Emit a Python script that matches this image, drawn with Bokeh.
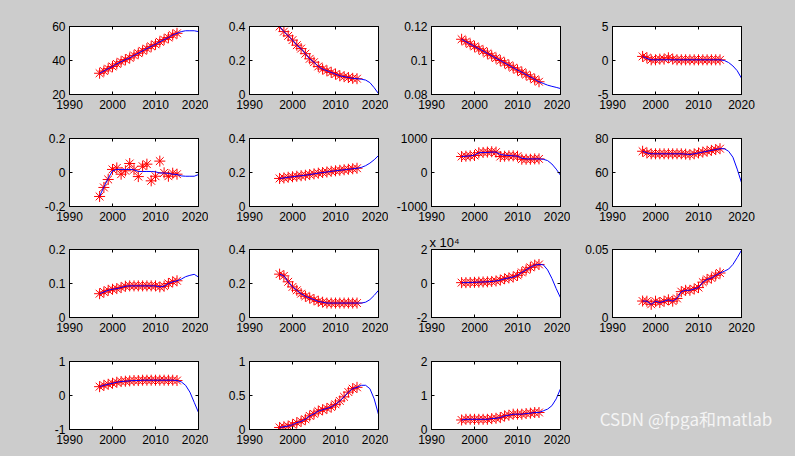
from bokeh.plotting import figure
from bokeh.layouts import row, column
from bokeh.models import FixedTicker, CustomJSTickFormatter, LinearAxis, Range1d, Label
from bokeh.embed import file_html
from bokeh.resources import INLINE

years_obs = list(range(1997, 2016))
years_fit = list(range(1997, 2021))
x_ticks = [1990, 2000, 2010, 2020]

obs1 = [32.5, 33.8, 35.2, 36.5, 38, 39.3, 40.5, 41.5, 43, 44.3, 45.7, 47, 48.3, 49.5, 51, 52.3, 53.5, 55, 56]
fit1 = obs1 + [57, 57.5, 57.5, 57.5, 57]

obs2 = [0.40, 0.37, 0.345, 0.32, 0.29, 0.27, 0.24, 0.21, 0.19, 0.165, 0.15, 0.14, 0.13, 0.12, 0.11, 0.105, 0.10, 0.095, 0.093]
fit2 = obs2 + [0.09, 0.085, 0.07, 0.04, 0.005]

obs3 = [0.1125, 0.1111, 0.1097, 0.1083, 0.1069, 0.1056, 0.1042, 0.1028, 0.1014, 0.1000, 0.0986, 0.0972, 0.0958, 0.0944, 0.0931, 0.0917, 0.0903, 0.0889, 0.0875]
fit3 = obs3 + [0.0865, 0.0855, 0.0848, 0.0842, 0.0835]

obs4 = [0.6, 0.4, 0.1, 0.1, 0.2, 0.2, 0.4, 0.2, 0.1, 0.1, 0.1, 0.1, 0.1, 0.1, 0.1, 0.1, 0.1, 0.1, 0.1]
fit4 = [0.6, 0.3, 0.1, 0.1, 0.1, 0.1, 0.1, 0.1, 0.1, 0.1, 0.1, 0.1, 0.1, 0.1, 0.1, 0.1, 0.1, 0.1, 0.1,
        0.0, -0.3, -0.8, -1.5, -2.6]

obs5 = [-0.141, -0.088, -0.041, 0.018, 0.027, -0.01, 0.01, 0.053, 0.016, -0.024, 0.037, 0.049, -0.049, -0.022, 0.067, -0.002, -0.022, -0.004, -0.01]
fit5 = [-0.14, -0.085, -0.035, 0.01, 0.018, 0.018, 0.018, 0.018, 0.016, 0.006, 0.006, 0.006, 0.006, 0.004, -0.003, -0.003, -0.005, -0.01, -0.012,
        -0.02, -0.022, -0.022, -0.022, -0.012]

obs6 = [0.165, 0.168, 0.172, 0.175, 0.178, 0.181, 0.184, 0.188, 0.192, 0.196, 0.2, 0.203, 0.207, 0.21, 0.213, 0.216, 0.219, 0.222, 0.225]
fit6 = obs6 + [0.23, 0.24, 0.255, 0.275, 0.30]

obs7 = [470, 480, 490, 500, 580, 590, 600, 610, 600, 470, 480, 490, 490, 480, 390, 390, 390, 400, 400]
fit7 = [470, 480, 490, 510, 580, 590, 590, 600, 600, 530, 510, 500, 490, 480, 420, 400, 400, 400, 400,
        390, 350, 250, 100, -80]

obs8 = [72.5, 71.5, 71, 71, 71, 71, 71, 71, 71, 71, 70.8, 70.5, 71, 71.5, 72, 72.5, 73, 73.5, 74]
fit8 = [72.5, 71.5, 71, 71, 71, 71, 71, 71, 71, 71, 70.8, 70.6, 71, 71.5, 72, 72.5, 73, 73.5, 74,
        74, 72.5, 69, 62, 54]

obs9 = [0.07, 0.075, 0.08, 0.083, 0.085, 0.088, 0.092, 0.093, 0.093, 0.093, 0.093, 0.093, 0.093, 0.093, 0.09, 0.092, 0.1, 0.105, 0.108]
fit9 = obs9 + [0.113, 0.12, 0.124, 0.127, 0.119]

obs10 = [0.255, 0.245, 0.21, 0.18, 0.16, 0.14, 0.125, 0.115, 0.105, 0.095, 0.09, 0.085, 0.085, 0.085, 0.085, 0.085, 0.085, 0.085, 0.085]
fit10 = obs10 + [0.085, 0.09, 0.105, 0.13, 0.16]

obs11 = [0.05, 0.05, 0.06, 0.07, 0.08, 0.09, 0.1, 0.12, 0.15, 0.2, 0.28, 0.33, 0.38, 0.48, 0.65, 0.8, 0.95, 1.08, 1.12]
fit11 = obs11 + [1.1, 0.8, 0.3, -0.3, -0.84]

obs12 = [0.0121, 0.012, 0.0097, 0.012, 0.011, 0.012, 0.013, 0.012, 0.014, 0.019, 0.02, 0.02, 0.021, 0.022, 0.026, 0.028, 0.029, 0.031, 0.0327]
fit12 = obs12 + [0.034, 0.0356, 0.039, 0.044, 0.0495]

obs13 = [0.26, 0.3, 0.33, 0.36, 0.39, 0.41, 0.42, 0.43, 0.44, 0.44, 0.45, 0.45, 0.45, 0.45, 0.45, 0.45, 0.45, 0.45, 0.44]
fit13 = obs13 + [0.4, 0.3, 0.1, -0.2, -0.5]

obs14 = [0.03, 0.04, 0.05, 0.07, 0.1, 0.12, 0.15, 0.2, 0.23, 0.27, 0.29, 0.31, 0.33, 0.37, 0.42, 0.48, 0.55, 0.6, 0.62]
fit14 = obs14 + [0.65, 0.65, 0.6, 0.45, 0.22]

obs15 = [0.28, 0.3, 0.3, 0.3, 0.3, 0.3, 0.3, 0.32, 0.33, 0.35, 0.4, 0.42, 0.45, 0.45, 0.45, 0.47, 0.48, 0.5, 0.5]
fit15 = obs15 + [0.55, 0.6, 0.7, 0.9, 1.2]

y_ranges = [(20, 60), (0, 0.4), (0.08, 0.12), (-5, 5),
            (-0.2, 0.2), (0, 0.4), (-1000, 1000), (40, 80),
            (0, 0.2), (0, 0.4), (-2, 2), (0, 0.05),
            (-1, 1), (0, 1), (0, 2)]
y_ticks = [[20, 40, 60], [0, 0.2, 0.4], [0.08, 0.1, 0.12], [-5, 0, 5],
           [-0.2, 0, 0.2], [0, 0.2, 0.4], [-1000, 0, 1000], [40, 60, 80],
           [0, 0.1, 0.2], [0, 0.2, 0.4], [-2, 0, 2], [0, 0.05],
           [-1, 0, 1], [0, 0.5, 1], [0, 1, 2]]
series = [(obs1, fit1), (obs2, fit2), (obs3, fit3), (obs4, fit4),
          (obs5, fit5), (obs6, fit6), (obs7, fit7), (obs8, fit8),
          (obs9, fit9), (obs10, fit10), (obs11, fit11), (obs12, fit12),
          (obs13, fit13), (obs14, fit14), (obs15, fit15)]

BG = "#cccccc"
FONT = "Liberation Sans"
FW, FH = 129, 68
LEFTS = [69, 41, 43, 42]
RIGHTS = [10, 10, 10, 54]
TOPS = [26, 18, 18, 18]
BOTTOMS = [26, 25, 26, 27]
BGSTYLE = {"background-color": BG}

fmt_code = "return String(Math.round(tick*1e6)/1e6);"


def style(ax, ticks, show):
    ax.ticker = FixedTicker(ticks=ticks)
    ax.major_tick_in = 3
    ax.major_tick_out = 0
    ax.minor_tick_line_color = None
    ax.axis_line_color = "black"
    ax.major_tick_line_color = "black"
    ax.major_label_text_font = FONT
    ax.major_label_text_font_size = "12px"
    ax.major_label_text_color = "black"
    if show:
        ax.formatter = CustomJSTickFormatter(code=fmt_code)
    else:
        ax.formatter = CustomJSTickFormatter(code="return '';")
        ax.major_label_standoff = 0


def make(i, ci, ri):
    L, R, T, B = LEFTS[ci], RIGHTS[ci], TOPS[ri], BOTTOMS[ri]
    p = figure(width=L + FW + R, height=T + FH + B,
               x_range=Range1d(1990, 2020), y_range=Range1d(*y_ranges[i]),
               output_backend="svg", toolbar_location=None,
               min_border_left=L, min_border_right=R, min_border_top=T, min_border_bottom=B)
    p.background_fill_color = "white"
    p.border_fill_color = BG
    p.outline_line_color = "black"
    p.xgrid.visible = False
    p.ygrid.visible = False
    style(p.xaxis[0], x_ticks, True)
    p.xaxis[0].major_label_standoff = 5
    style(p.yaxis[0], y_ticks[i], True)
    p.yaxis[0].major_label_standoff = 4
    top = LinearAxis()
    style(top, x_ticks, False)
    p.add_layout(top, "above")
    right = LinearAxis()
    style(right, y_ticks[i], False)
    p.add_layout(right, "right")
    obs, fit = series[i]
    p.scatter(years_obs, obs, marker="asterisk", size=11, line_color="red", line_width=1)
    p.line(years_fit, fit, line_color="blue", line_width=1)
    return p


figs = []
for i in range(15):
    figs.append(make(i, i % 4, i // 4))

# exponent label for subplot 11
figs[10].title.text = "x 10\u2074"
figs[10].title.text_font = FONT
figs[10].title.text_font_size = "13px"
figs[10].title.text_font_style = "normal"
figs[10].title.text_color = "black"
figs[10].title.align = "left"
figs[10].title.offset = -2
figs[10].title.standoff = 0

# empty cell with watermark
wm = figure(width=225, height=113, x_range=Range1d(0, 1), y_range=Range1d(0, 1),
            output_backend="svg", toolbar_location=None,
            x_axis_location=None, y_axis_location=None,
            min_border_left=0, min_border_right=0, min_border_top=0, min_border_bottom=0)
wm.background_fill_color = BG
wm.border_fill_color = BG
wm.outline_line_color = None
wm.xgrid.visible = False
wm.ygrid.visible = False
wm.add_layout(Label(x=(685.5 - 570) / 225, y=1 - (437 - 343) / 113, text="CSDN @fpga和matlab",
                    text_align="center", text_baseline="middle",
                    text_font="Noto Sans CJK SC", text_font_size="17px",
                    text_color="#f4f4f4"))

rows = [row(*figs[0:4], styles=BGSTYLE), row(*figs[4:8], styles=BGSTYLE),
        row(*figs[8:12], styles=BGSTYLE), row(*(figs[12:15] + [wm]), styles=BGSTYLE)]
p = column(*rows, styles=BGSTYLE)

open("out.html", "w").write(file_html(p, INLINE))
